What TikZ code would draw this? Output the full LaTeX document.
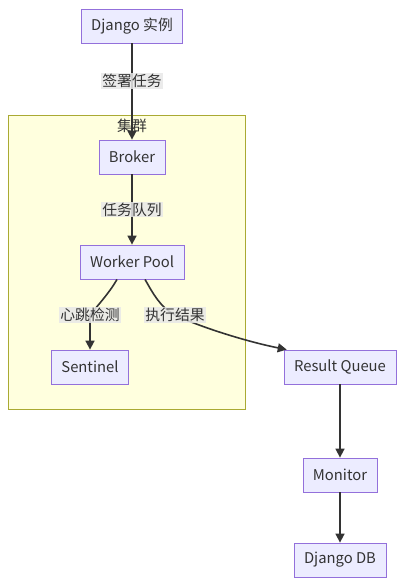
\documentclass[tikz,border=0pt]{standalone}
\usepackage{fontspec}
\setmainfont{Noto Sans CJK SC}
\usetikzlibrary{positioning, arrows.meta, backgrounds}
\definecolor{boxfill}{HTML}{ECECFF}
\definecolor{boxline}{HTML}{9370DB}
\definecolor{clusterfill}{HTML}{FFFFDE}
\definecolor{clusterline}{HTML}{AAAA33}
\definecolor{ink}{HTML}{333333}
\definecolor{lblfill}{HTML}{E8E8E8}
\begin{document}
\begin{tikzpicture}[x=1pt, y=-1pt,
					font=\fontsize{14.8}{17}\selectfont, text=ink,
					box/.style={draw=boxline, fill=boxfill, line width=0.8pt, minimum height=34pt, inner xsep=10pt},
					edge/.style={draw=ink, line width=1.6pt, -{Triangle[length=9pt, width=9pt]}},
					lbl/.style={fill=lblfill, fill opacity=0.85, text opacity=1, inner sep=1pt}]
					\useasboundingbox (0,0) rectangle (409,585);
					% cluster
					\draw[clusterline, fill=clusterfill, line width=0.8pt] (8,115) rectangle (245,409);
					\node (clu) at (132,126) {集群};
					% nodes
					\node[box] (dj) at (132,26) {Django 实例};
					\node[box] (broker) at (132,157) {Broker};
					\node[box] (pool) at (132,262) {Worker Pool};
					\node[box] (sen) at (90,367) {Sentinel};
					\node[box] (rq) at (340,367) {Result Queue};
					\node[box] (mon) at (340,475) {Monitor};
					\node[box] (db) at (340,560) {Django DB};
					\coordinate (hb) at (90,315);
					\coordinate (res) at (175,315);
					% edges
					\draw[edge] (dj) -- node[lbl, pos=0.39] {签署任务} (broker);
					\draw[edge] (broker) -- node[lbl] {任务队列} (pool);
					\draw[edge] ([xshift=-15pt]pool.south) .. controls +(-8,14) and +(8,-10) .. (hb) -- (sen.north);
					\node[lbl] at (hb) {心跳检测};
					\draw[edge] ([xshift=13pt]pool.south) .. controls +(8,14) and +(-15,-8) .. (res) .. controls +(25,12) and +(-40,-8) .. ([xshift=3pt]rq.north west);
					\node[lbl] at (res) {执行结果};
					\draw[edge] (rq) -- (mon);
					\draw[edge] (mon) -- (db);
				\end{tikzpicture}
\end{document}
